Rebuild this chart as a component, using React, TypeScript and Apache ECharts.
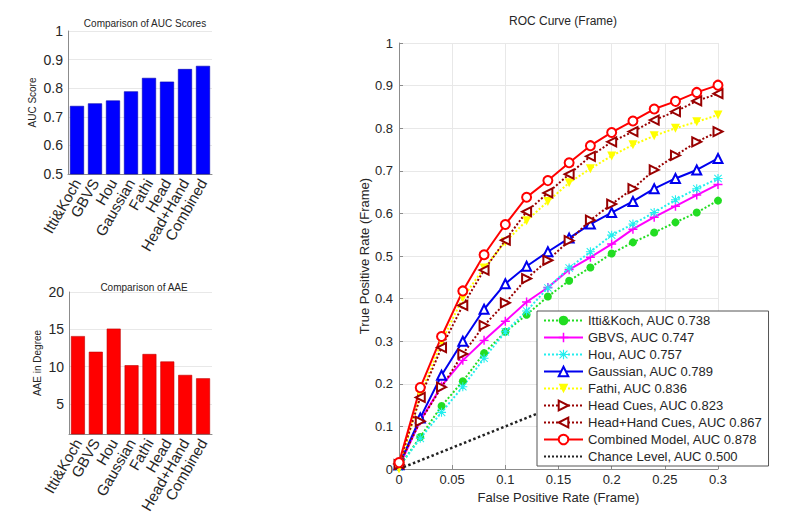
import React, { useEffect, useRef } from "react";
import * as echarts from "echarts";

const methods = ["Itti&Koch", "GBVS", "Hou", "Gaussian", "Fathi", "Head", "Head+Hand", "Combined"];
const aucScores = [0.738, 0.747, 0.757, 0.789, 0.836, 0.823, 0.867, 0.878];
const aaeValues = [14.1, 12.0, 15.1, 10.2, 11.7, 10.7, 8.9, 8.45];

const fpr = [0, 0.02, 0.04, 0.06, 0.08, 0.1, 0.12, 0.14, 0.16, 0.18, 0.2, 0.22, 0.24, 0.26, 0.28, 0.3];
const ittiKoch = [0.005, 0.075, 0.148, 0.206, 0.272, 0.322, 0.362, 0.405, 0.442, 0.473, 0.506, 0.532, 0.555, 0.579, 0.602, 0.63];
const gbvs = [0.005, 0.113, 0.195, 0.255, 0.302, 0.347, 0.392, 0.426, 0.468, 0.497, 0.528, 0.563, 0.591, 0.617, 0.643, 0.668];
const hou = [0.005, 0.072, 0.133, 0.193, 0.26, 0.322, 0.371, 0.425, 0.472, 0.51, 0.549, 0.575, 0.602, 0.632, 0.658, 0.682];
const gaussian = [0.01, 0.12, 0.22, 0.3, 0.375, 0.435, 0.476, 0.51, 0.542, 0.575, 0.602, 0.628, 0.658, 0.682, 0.702, 0.729];
const fathi = [0, 0.175, 0.298, 0.402, 0.472, 0.533, 0.583, 0.628, 0.672, 0.705, 0.735, 0.761, 0.782, 0.8, 0.815, 0.831];
const headCues = [0.01, 0.112, 0.192, 0.27, 0.337, 0.39, 0.447, 0.49, 0.536, 0.584, 0.622, 0.658, 0.702, 0.736, 0.768, 0.792];
const headHand = [0.012, 0.168, 0.285, 0.384, 0.467, 0.537, 0.604, 0.648, 0.692, 0.734, 0.768, 0.792, 0.819, 0.839, 0.864, 0.881];
const combined = [0.015, 0.191, 0.311, 0.418, 0.503, 0.574, 0.638, 0.677, 0.719, 0.759, 0.79, 0.817, 0.845, 0.863, 0.884, 0.901];
const chance = [0, 0.02, 0.04, 0.06, 0.08, 0.1, 0.12, 0.14, 0.16, 0.18, 0.2, 0.22, 0.24, 0.26, 0.28, 0.3];

const legendNames = [
  "Itti&Koch, AUC 0.738",
  "GBVS, AUC 0.747",
  "Hou, AUC 0.757",
  "Gaussian, AUC 0.789",
  "Fathi, AUC 0.836",
  "Head Cues, AUC 0.823",
  "Head+Hand Cues, AUC 0.867",
  "Combined Model, AUC 0.878",
  "Chance Level, AUC 0.500",
];

const FONT = "Liberation Sans, Arial, Helvetica, sans-serif";
const TXT = "#262626";
const AXIS = "#8c8c8c";
const GRID = "#e8e8e8";

const PLUS = "path://M4.2,0H5.8V4.2H10V5.8H5.8V10H4.2V5.8H0V4.2H4.2Z";
const STAR =
  "path://M4.4,0H5.6V4.4H10V5.6H5.6V10H4.4V5.6H0V4.4H4.4Z M1.3,0.5L5,4.2L8.7,0.5L9.5,1.3L5.8,5L9.5,8.7L8.7,9.5L5,5.8L1.3,9.5L0.5,8.7L4.2,5L0.5,1.3Z";

function pairs(ys: number[]) {
  return ys.map((y, i) => [fpr[i], y]);
}

export default function App() {
  const ref = useRef<HTMLDivElement>(null);
  useEffect(() => {
    if (!ref.current) return;
    const chart = echarts.init(ref.current, null, { renderer: "svg" });

    const lineSeries = (
      name: string,
      ys: number[],
      color: string,
      lineType: string,
      symbol: string,
      opts: any = {}
    ) => ({
      type: "line",
      name,
      xAxisIndex: 2,
      yAxisIndex: 2,
      data: pairs(ys),
      symbol,
      symbolSize: opts.size ?? 8,
      symbolRotate: opts.rotate ?? 0,
      showSymbol: symbol !== "none",
      lineStyle: { color, width: opts.width ?? 2, type: lineType },
      itemStyle: {
        color,
        borderWidth: opts.border ?? 0,
      },
      emphasis: { disabled: true },
      z: opts.z ?? 3,
    });

    const catAxis = (gridIndex: number) => ({
      type: "category",
      gridIndex,
      data: methods,
      axisLine: { lineStyle: { color: AXIS, width: 1 } },
      axisTick: { show: false },
      axisLabel: {
        rotate: 60,
        fontSize: 15,
        color: TXT,
        fontFamily: FONT,
        margin: 6,
        interval: 0,
      },
      splitLine: { show: false },
    });

    const option: any = {
      animation: false,
      backgroundColor: "#ffffff",
      textStyle: { fontFamily: FONT },
      title: [
        {
          text: "Comparison of AUC Scores",
          left: 140,
          top: 13,
          textAlign: "center",
          textStyle: { fontSize: 10, fontWeight: "normal", color: TXT, fontFamily: FONT },
        },
        {
          text: "Comparison of AAE",
          left: 139,
          top: 277,
          textAlign: "center",
          textStyle: { fontSize: 10, fontWeight: "normal", color: TXT, fontFamily: FONT },
        },
        {
          text: "ROC Curve (Frame)",
          left: 558,
          top: 10,
          textAlign: "center",
          textStyle: { fontSize: 12, fontWeight: "normal", color: TXT, fontFamily: FONT },
        },
      ],
      grid: [
        { left: 68, top: 31, width: 144, height: 143 },
        { left: 69, top: 292, width: 143, height: 144 },
        { left: 399, top: 43, width: 319, height: 426 },
      ],
      xAxis: [
        catAxis(0),
        catAxis(1),
        {
          type: "value",
          gridIndex: 2,
          min: 0,
          max: 0.3,
          interval: 0.05,
          name: "False Positive Rate (Frame)",
          nameLocation: "middle",
          nameGap: 18,
          nameTextStyle: { fontSize: 13, color: TXT, fontFamily: FONT },
          axisLine: { lineStyle: { color: AXIS } },
          axisTick: { inside: true, length: 4, lineStyle: { color: AXIS } },
          axisLabel: { fontSize: 13, color: TXT, fontFamily: FONT, margin: 4 },
          splitLine: { show: true, lineStyle: { color: GRID } },
        },
      ],
      yAxis: [
        {
          type: "value",
          gridIndex: 0,
          min: 0.5,
          max: 1,
          interval: 0.1,
          name: "AUC Score",
          nameLocation: "middle",
          nameGap: 31,
          nameTextStyle: { fontSize: 10, color: TXT, fontFamily: FONT },
          axisLine: { show: true, lineStyle: { color: AXIS } },
          axisTick: { show: false },
          axisLabel: { fontSize: 14, color: TXT, fontFamily: FONT, margin: 5 },
          splitLine: { show: true, lineStyle: { color: GRID } },
        },
        {
          type: "value",
          gridIndex: 1,
          min: 1,
          max: 20,
          name: "AAE in Degree",
          nameLocation: "middle",
          nameGap: 27,
          nameTextStyle: { fontSize: 10, color: TXT, fontFamily: FONT },
          axisLine: { show: true, lineStyle: { color: AXIS } },
          axisTick: { show: false, customValues: [5, 10, 15, 20] },
          axisLabel: {
            fontSize: 14,
            color: TXT,
            fontFamily: FONT,
            margin: 5,
            customValues: [5, 10, 15, 20],
          },
          splitLine: { show: true, lineStyle: { color: GRID } },
        },
        {
          type: "value",
          gridIndex: 2,
          min: 0,
          max: 1,
          interval: 0.1,
          name: "True Positive Rate (Frame)",
          nameLocation: "middle",
          nameGap: 28,
          nameTextStyle: { fontSize: 13, color: TXT, fontFamily: FONT },
          axisLine: { show: true, lineStyle: { color: AXIS } },
          axisTick: { show: true, inside: true, length: 4, lineStyle: { color: AXIS } },
          axisLabel: { fontSize: 13, color: TXT, fontFamily: FONT, margin: 6 },
          splitLine: { show: true, lineStyle: { color: GRID } },
        },
      ],
      legend: {
        orient: "vertical",
        left: 537,
        top: 311,
        z: 20,
        padding: [3, 6, 3, 6],
        itemGap: 4,
        itemWidth: 39,
        itemHeight: 12,
        backgroundColor: "#ffffff",
        borderColor: "#555555",
        borderWidth: 1,
        borderRadius: 0,
        textStyle: { fontSize: 13, color: TXT, fontFamily: FONT },
        data: legendNames.map((n, i) =>
          i === legendNames.length - 1 ? { name: n, itemStyle: { opacity: 0 } } : n
        ),
        selectedMode: false,
      },
      series: [
        {
          type: "bar",
          xAxisIndex: 0,
          yAxisIndex: 0,
          data: aucScores,
          barWidth: "78%",
          itemStyle: { color: "#0000ff", borderColor: "#0000b0", borderWidth: 0.6 },
          emphasis: { disabled: true },
        },
        {
          type: "bar",
          xAxisIndex: 1,
          yAxisIndex: 1,
          data: aaeValues,
          barWidth: "78%",
          itemStyle: { color: "#ff0000", borderColor: "#c00000", borderWidth: 0.6 },
          emphasis: { disabled: true },
        },
        lineSeries(legendNames[0], ittiKoch, "#22dd22", "dotted", "circle", { size: 8 }),
        lineSeries(legendNames[1], gbvs, "#ff00ff", "solid", PLUS, { size: 9 }),
        lineSeries(legendNames[2], hou, "#22eeee", "dotted", STAR, { size: 9 }),
        lineSeries(legendNames[3], gaussian, "#0000ee", "solid", "emptyTriangle", {
          size: 9,
          border: 2,
        }),
        lineSeries(legendNames[4], fathi, "#ffff00", "dotted", "triangle", { size: 9, rotate: 180 }),
        lineSeries(legendNames[5], headCues, "#990000", "dotted", "emptyTriangle", {
          size: 9,
          rotate: -90,
          border: 2,
        }),
        lineSeries(legendNames[6], headHand, "#990000", "dotted", "emptyTriangle", {
          size: 9,
          rotate: 90,
          border: 2,
        }),
        lineSeries(legendNames[7], combined, "#ff0000", "solid", "emptyCircle", {
          size: 9,
          border: 2,
        }),
        lineSeries(legendNames[8], chance, "#222222", "dotted", "none", { width: 2.5 }),
      ],
    };

    chart.setOption(option);
    return () => chart.dispose();
  }, []);

  return (
    <div
      ref={ref}
      style={{ position: "absolute", left: 0, top: 0, width: 786, height: 516 }}
    />
  );
}
